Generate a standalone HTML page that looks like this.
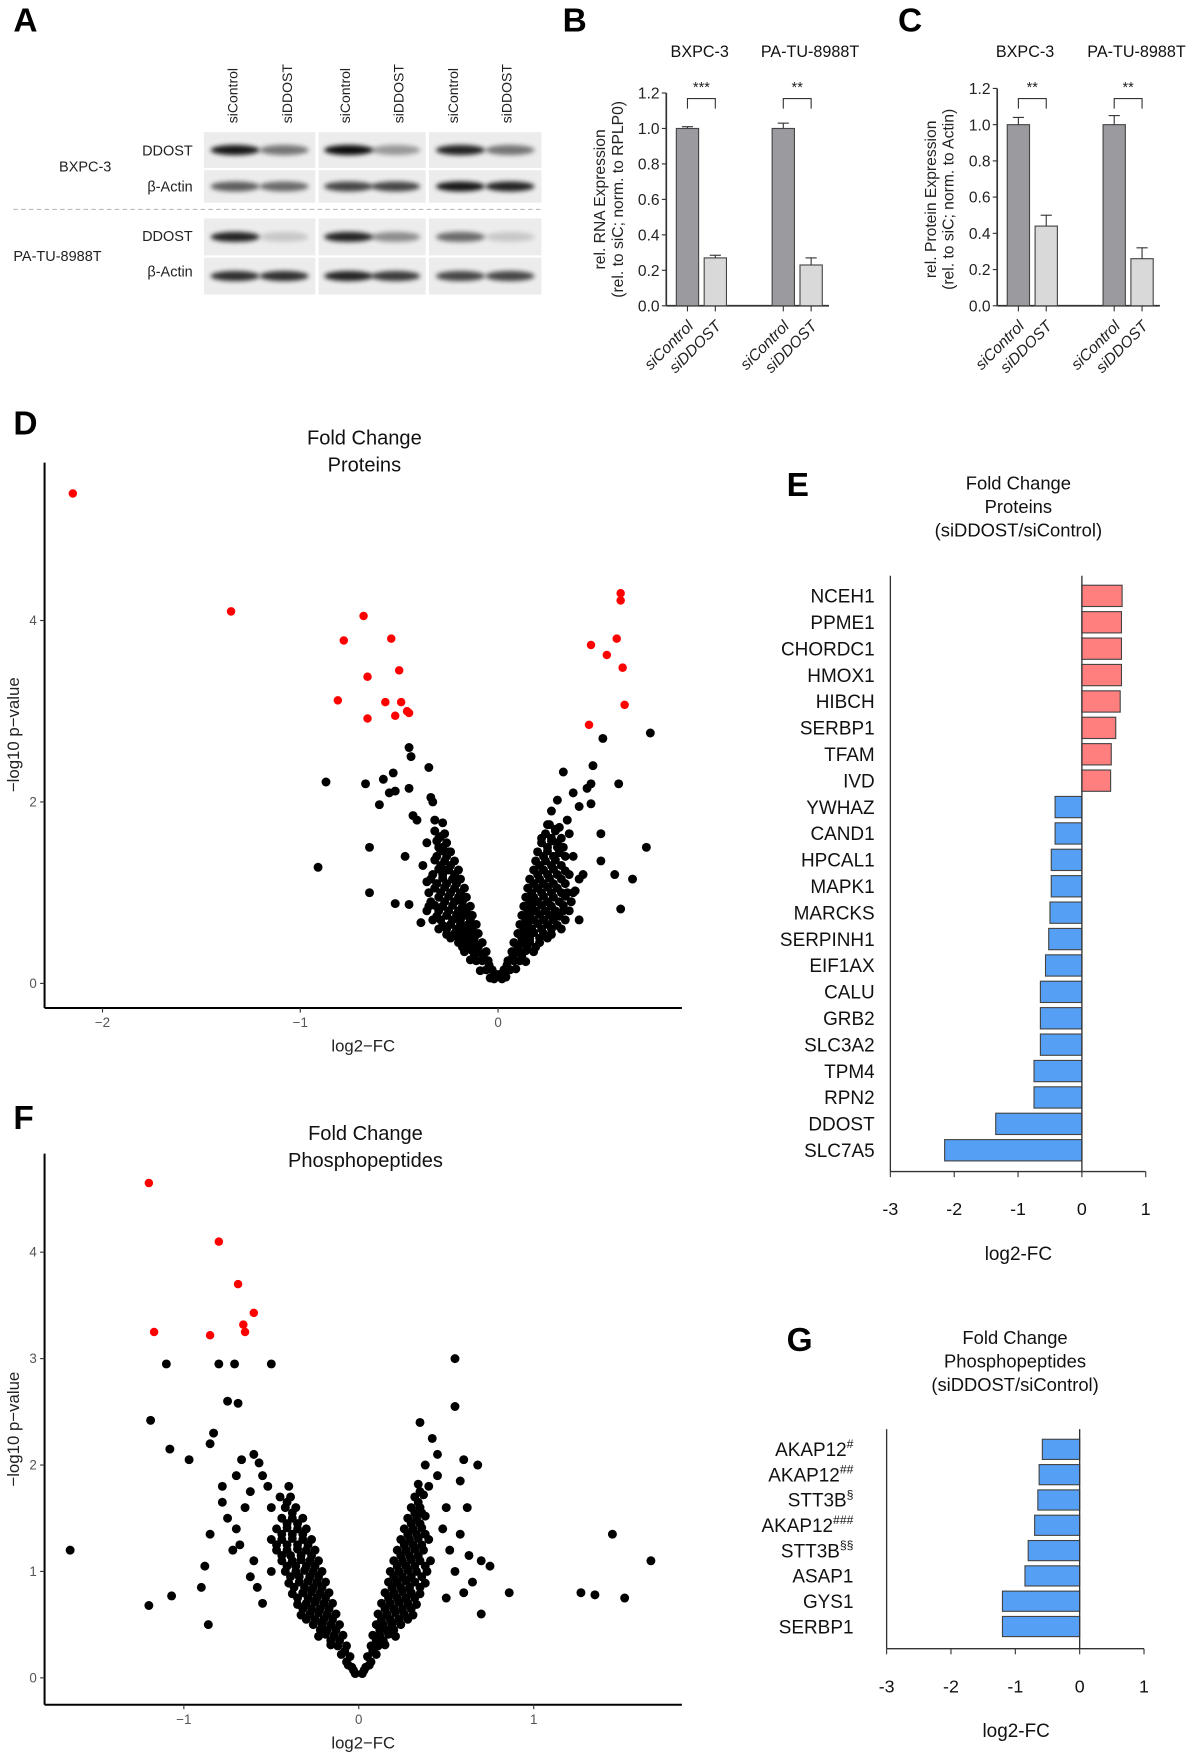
<!DOCTYPE html>
<html><head><meta charset="utf-8"><style>
html,body{margin:0;padding:0;background:#fff}
svg{display:block}
text{font-family:"Liberation Sans",sans-serif}
</style></head><body>
<svg id="fig" width="1200" height="1754" viewBox="0 0 1077 1566" preserveAspectRatio="none" xmlns="http://www.w3.org/2000/svg">
<defs><filter id="blur" x="-20%" y="-50%" width="140%" height="200%"><feGaussianBlur stdDeviation="2.2"/></filter></defs>
<g font-weight="bold" font-size="30" fill="#000">
<text x="12" y="28">A</text>
<text x="505" y="28">B</text>
<text x="806" y="28">C</text>
<text x="12" y="388">D</text>
<text x="706" y="443">E</text>
<text x="12" y="1008">F</text>
<text x="706" y="1206">G</text>
</g>
<g id="blot" font-size="13" fill="#222">
<g font-size="12.5">
<text transform="translate(213,110) rotate(-90)">siControl</text>
<text transform="translate(262,110) rotate(-90)">siDDOST</text>
<text transform="translate(314,110) rotate(-90)">siControl</text>
<text transform="translate(362,110) rotate(-90)">siDDOST</text>
<text transform="translate(411,110) rotate(-90)">siControl</text>
<text transform="translate(459,110) rotate(-90)">siDDOST</text>
</g>
<text x="173" y="139" text-anchor="end">DDOST</text>
<text x="173" y="171" text-anchor="end">β-Actin</text>
<text x="173" y="215" text-anchor="end">DDOST</text>
<text x="173" y="247" text-anchor="end">β-Actin</text>
<text x="53" y="153">BXPC-3</text>
<text x="12" y="233">PA-TU-8988T</text>
<line x1="12" y1="187" x2="486" y2="187" stroke="#bbb" stroke-dasharray="4,3"/>
</g>
<g id="bars-b"></g>
<g id="bars-c"></g>
<g id="volc-d"></g>
<g id="volc-f"></g>
<g id="bar-e"></g>
<g id="bar-g"></g>
</svg>
<script>
const barCats=["siControl","siDDOST","siControl","siDDOST"];
const bValues=[1.0,0.27,1.0,0.23];
const bErrors=[0.01,0.015,0.03,0.04];
const cValues=[1.0,0.44,1.0,0.26];
const cErrors=[0.04,0.06,0.05,0.06];
const bcTicks=[0,0.2,0.4,0.6,0.8,1.0,1.2];
const bStars=["***","**"];
const cStars=["**","**"];

const eGenes=["NCEH1","PPME1","CHORDC1","HMOX1","HIBCH","SERBP1","TFAM","IVD","YWHAZ","CAND1","HPCAL1","MAPK1","MARCKS","SERPINH1","EIF1AX","CALU","GRB2","SLC3A2","TPM4","RPN2","DDOST","SLC7A5"];
const eValues=[0.63,0.62,0.62,0.62,0.6,0.53,0.46,0.45,-0.42,-0.42,-0.48,-0.48,-0.5,-0.52,-0.57,-0.65,-0.65,-0.65,-0.75,-0.75,-1.35,-2.15];
const gGenes=["AKAP12","AKAP12","STT3B","AKAP12","STT3B","ASAP1","GYS1","SERBP1"];
const gSup=["#","##","§","###","§§","","",""];
const gValues=[-0.58,-0.63,-0.65,-0.7,-0.8,-0.85,-1.2,-1.2];
const fcTicks=[-3,-2,-1,0,1];

const dRed=[[-2.15,5.4],[-1.35,4.1],[-0.68,4.05],[-0.78,3.78],[-0.54,3.8],[-0.5,3.45],[-0.66,3.38],[-0.81,3.12],[-0.57,3.1],[-0.49,3.1],[-0.46,3.0],[-0.45,2.98],[-0.52,2.95],[-0.66,2.92],[0.62,4.3],[0.62,4.22],[0.47,3.73],[0.6,3.8],[0.55,3.62],[0.63,3.48],[0.64,3.07],[0.46,2.85]];
const dBlack=[[0.77,2.76],[0.53,2.7],[-0.45,2.6],[-0.44,2.5],[-0.87,2.22],[-0.67,2.2],[-0.58,2.25],[-0.53,2.32],[-0.52,2.12],[-0.55,2.1],[-0.45,2.15],[-0.6,1.97],[-0.35,2.38],[-0.34,2.05],[-0.33,2.0],[-0.43,1.85],[-0.41,1.8],[-0.32,1.8],[-0.28,1.77],[-0.91,1.28],[-0.65,1.5],[-0.47,1.4],[-0.65,1.0],[-0.52,0.88],[-0.45,0.87],[-0.39,0.67],[0.33,2.33],[0.48,2.4],[0.47,2.2],[0.45,2.15],[0.61,2.2],[0.47,1.98],[0.52,1.65],[0.75,1.5],[0.52,1.35],[0.59,1.2],[0.68,1.15],[0.62,0.82],[0.43,1.2],[0.41,1.15],[0.38,1.4],[0.3,1.55],[0.35,1.8],[0.27,1.9],[0.3,2.02],[0.41,0.7],[0.39,1.02],[0.38,2.1],[0.41,1.95],[0.36,1.65],[0.33,1.5],[-0.3,1.5],[-0.36,1.55],[-0.38,1.3],[-0.36,1.12],[-0.29,1.62],[-0.25,1.45],[-0.27,1.25],[-0.35,0.85],[0.25,1.75],[0.22,1.6],[0.35,1.0],[0.33,0.8],[0.37,0.9],[0.29,0.75]];
const dCore=[[-0.02,0.05],[-0.04,0.06],[-0.03,0.15],[-0.06,0.15],[-0.09,0.14],[-0.05,0.25],[-0.08,0.25],[-0.11,0.25],[-0.14,0.26],[-0.06,0.35],[-0.1,0.35],[-0.13,0.36],[-0.17,0.35],[-0.08,0.45],[-0.12,0.45],[-0.16,0.46],[-0.2,0.45],[-0.1,0.55],[-0.14,0.55],[-0.18,0.56],[-0.22,0.55],[-0.26,0.54],[-0.11,0.65],[-0.15,0.65],[-0.19,0.66],[-0.24,0.65],[-0.28,0.64],[-0.13,0.75],[-0.17,0.75],[-0.21,0.76],[-0.26,0.75],[-0.31,0.74],[-0.14,0.85],[-0.18,0.85],[-0.23,0.86],[-0.28,0.85],[-0.32,0.86],[-0.16,0.95],[-0.2,0.95],[-0.25,0.96],[-0.3,0.95],[-0.17,1.05],[-0.22,1.05],[-0.27,1.06],[-0.32,1.05],[-0.19,1.15],[-0.23,1.15],[-0.28,1.16],[-0.34,1.15],[-0.2,1.25],[-0.25,1.25],[-0.3,1.26],[-0.22,1.35],[-0.27,1.35],[-0.32,1.36],[-0.24,1.45],[-0.29,1.46],[-0.26,1.55],[-0.31,1.57],[-0.27,1.65],[-0.32,1.68],
[0.02,0.05],[0.04,0.07],[0.03,0.15],[0.06,0.15],[0.09,0.16],[0.05,0.25],[0.08,0.25],[0.11,0.25],[0.14,0.24],[0.07,0.35],[0.1,0.35],[0.14,0.36],[0.18,0.35],[0.08,0.45],[0.12,0.45],[0.16,0.46],[0.21,0.45],[0.1,0.55],[0.14,0.55],[0.18,0.56],[0.23,0.55],[0.27,0.54],[0.11,0.65],[0.15,0.65],[0.2,0.66],[0.25,0.65],[0.3,0.64],[0.12,0.75],[0.16,0.75],[0.21,0.76],[0.26,0.75],[0.31,0.74],[0.13,0.85],[0.17,0.85],[0.22,0.86],[0.27,0.85],[0.33,0.86],[0.14,0.95],[0.18,0.95],[0.23,0.96],[0.28,0.95],[0.34,0.96],[0.15,1.05],[0.2,1.05],[0.25,1.06],[0.3,1.05],[0.16,1.15],[0.21,1.15],[0.26,1.16],[0.32,1.15],[0.18,1.25],[0.23,1.25],[0.28,1.26],[0.34,1.24],[0.19,1.35],[0.24,1.35],[0.29,1.36],[0.2,1.45],[0.25,1.46],[0.31,1.44],[0.22,1.55],[0.27,1.57],[0.24,1.65],[0.29,1.68],[0.26,1.75],[0.31,1.72]];
const dFill=[[-0.01,0.1],[-0.045,0.2],[-0.075,0.3],[-0.12,0.3],[-0.1,0.4],[-0.145,0.4],[-0.18,0.4],[-0.12,0.5],[-0.16,0.5],[-0.2,0.5],[-0.24,0.5],[-0.13,0.6],[-0.17,0.6],[-0.21,0.6],[-0.26,0.6],[-0.3,0.6],[-0.14,0.7],[-0.19,0.7],[-0.23,0.7],[-0.29,0.7],[-0.33,0.7],[-0.16,0.8],[-0.2,0.8],[-0.25,0.8],[-0.3,0.8],[-0.36,0.8],[-0.18,0.9],[-0.22,0.9],[-0.27,0.9],[-0.34,0.9],[-0.19,1.0],[-0.24,1.0],[-0.29,1.0],[-0.35,1.0],[-0.21,1.1],[-0.26,1.1],[-0.31,1.1],[-0.22,1.2],[-0.28,1.2],[-0.33,1.2],[-0.24,1.3],[-0.29,1.3],[-0.26,1.4],[-0.31,1.4],[-0.28,1.5],[-0.3,1.6],
[0.01,0.1],[0.045,0.2],[0.075,0.3],[0.12,0.3],[0.1,0.4],[0.145,0.4],[0.19,0.4],[0.12,0.5],[0.16,0.5],[0.21,0.5],[0.25,0.5],[0.13,0.6],[0.17,0.6],[0.22,0.6],[0.27,0.6],[0.32,0.6],[0.14,0.7],[0.18,0.7],[0.23,0.7],[0.28,0.7],[0.34,0.7],[0.15,0.8],[0.19,0.8],[0.24,0.8],[0.29,0.8],[0.36,0.8],[0.16,0.9],[0.2,0.9],[0.25,0.9],[0.31,0.9],[0.37,0.9],[0.17,1.0],[0.22,1.0],[0.27,1.0],[0.32,1.0],[0.38,1.0],[0.18,1.1],[0.23,1.1],[0.28,1.1],[0.34,1.1],[0.2,1.2],[0.25,1.2],[0.3,1.2],[0.36,1.2],[0.21,1.3],[0.27,1.3],[0.32,1.3],[0.23,1.4],[0.28,1.4],[0.34,1.4],[0.25,1.5],[0.3,1.5],[0.27,1.6],[0.32,1.6],[0.29,1.7]];

const fRed=[[-1.2,4.65],[-0.8,4.1],[-0.69,3.7],[-0.6,3.43],[-0.66,3.32],[-0.65,3.25],[-1.17,3.25],[-0.85,3.22]];
const fBlack=[[-1.1,2.95],[-0.8,2.95],[-0.71,2.95],[-0.5,2.95],[-0.75,2.6],[-0.69,2.58],[-1.19,2.42],[-0.83,2.3],[-0.85,2.2],[-1.08,2.15],[-0.97,2.05],[-1.65,1.2],[-1.2,0.68],[-1.07,0.77],[-0.86,0.5],[-0.9,0.85],[-0.88,1.05],[0.55,3.0],[0.55,2.55],[0.35,2.4],[0.68,2.0],[0.6,2.05],[0.58,1.85],[0.62,1.6],[0.7,1.1],[0.75,1.05],[0.86,0.8],[1.27,0.8],[1.35,0.78],[1.45,1.35],[1.52,0.75],[1.67,1.1],[0.65,0.9],[0.7,0.6],[0.45,2.1],[0.4,1.8],[-0.6,2.1],[-0.55,1.9],[-0.7,1.9],[-0.78,1.8],[-0.45,1.7],[-0.5,1.6],[-0.65,1.6],[-0.75,1.5],[-0.85,1.35],[-0.68,1.25],[-0.6,1.1],[-0.5,1.0],[-0.55,0.7],[-0.7,1.4],[-0.62,1.75],[-0.57,2.02],[-0.52,1.8],[-0.67,2.05],[-0.78,1.65],[-0.72,1.2],[-0.62,0.95],[-0.58,0.85],[0.5,1.6],[0.48,1.4],[0.52,1.2],[0.55,1.0],[0.45,1.9],[0.58,1.35],[0.63,1.15],[0.6,0.8],[0.5,0.75],[0.42,2.25],[0.38,2.0]];
const fCore=[[-0.02,0.04],[-0.04,0.1],[-0.07,0.15],[-0.05,0.2],[-0.1,0.22],[-0.07,0.3],[-0.12,0.3],[-0.16,0.31],[-0.09,0.4],[-0.14,0.4],[-0.19,0.41],[-0.23,0.39],[-0.11,0.5],[-0.16,0.5],[-0.21,0.51],[-0.26,0.5],[-0.13,0.6],[-0.18,0.6],[-0.23,0.61],[-0.28,0.6],[-0.33,0.59],[-0.15,0.7],[-0.2,0.7],[-0.25,0.71],[-0.3,0.7],[-0.35,0.69],[-0.17,0.8],[-0.22,0.8],[-0.27,0.81],[-0.32,0.8],[-0.38,0.79],[-0.19,0.9],[-0.24,0.9],[-0.29,0.91],[-0.34,0.9],[-0.4,0.89],[-0.21,1.0],[-0.26,1.0],[-0.31,1.01],[-0.36,1.0],[-0.42,1.0],[-0.23,1.1],[-0.28,1.1],[-0.33,1.11],[-0.38,1.1],[-0.44,1.1],[-0.25,1.2],[-0.3,1.2],[-0.35,1.21],[-0.41,1.2],[-0.47,1.2],[-0.27,1.3],[-0.32,1.3],[-0.38,1.31],[-0.44,1.3],[-0.5,1.3],[-0.3,1.4],[-0.35,1.4],[-0.41,1.41],[-0.47,1.4],[-0.32,1.5],[-0.38,1.5],[-0.44,1.5],[-0.36,1.6],[-0.42,1.6],[-0.39,1.7],[-0.4,1.8],
[0.02,0.04],[0.04,0.1],[0.07,0.15],[0.05,0.2],[0.1,0.22],[0.07,0.3],[0.11,0.3],[0.15,0.31],[0.08,0.4],[0.12,0.4],[0.17,0.41],[0.21,0.39],[0.1,0.5],[0.14,0.5],[0.19,0.51],[0.24,0.5],[0.11,0.6],[0.16,0.6],[0.21,0.61],[0.26,0.6],[0.31,0.59],[0.13,0.7],[0.18,0.7],[0.23,0.71],[0.28,0.7],[0.33,0.69],[0.15,0.8],[0.2,0.8],[0.25,0.81],[0.3,0.8],[0.35,0.79],[0.17,0.9],[0.22,0.9],[0.27,0.91],[0.32,0.9],[0.38,0.89],[0.18,1.0],[0.23,1.0],[0.28,1.01],[0.33,1.0],[0.39,1.0],[0.2,1.1],[0.25,1.1],[0.3,1.11],[0.35,1.1],[0.41,1.1],[0.22,1.2],[0.27,1.2],[0.32,1.21],[0.37,1.2],[0.24,1.3],[0.29,1.3],[0.34,1.31],[0.4,1.3],[0.26,1.4],[0.31,1.4],[0.36,1.41],[0.28,1.5],[0.33,1.5],[0.38,1.52],[0.3,1.6],[0.35,1.6],[0.32,1.7],[0.37,1.72],[0.34,1.82]];
const fFill=[[-0.03,0.07],[-0.06,0.12],[-0.08,0.25],[-0.11,0.35],[-0.16,0.35],[-0.13,0.45],[-0.18,0.45],[-0.22,0.45],[-0.15,0.55],[-0.2,0.55],[-0.25,0.55],[-0.3,0.55],[-0.17,0.65],[-0.22,0.65],[-0.27,0.65],[-0.32,0.65],[-0.19,0.75],[-0.24,0.75],[-0.29,0.75],[-0.35,0.75],[-0.21,0.85],[-0.26,0.85],[-0.31,0.85],[-0.37,0.85],[-0.23,0.95],[-0.28,0.95],[-0.34,0.95],[-0.39,0.95],[-0.25,1.05],[-0.3,1.05],[-0.36,1.05],[-0.41,1.05],[-0.27,1.15],[-0.33,1.15],[-0.39,1.15],[-0.44,1.15],[-0.29,1.25],[-0.35,1.25],[-0.41,1.25],[-0.47,1.25],[-0.32,1.35],[-0.38,1.35],[-0.44,1.35],[-0.35,1.45],[-0.41,1.45],[-0.38,1.55],[-0.41,1.65],
[0.03,0.07],[0.06,0.12],[0.08,0.25],[0.1,0.35],[0.14,0.35],[0.12,0.45],[0.16,0.45],[0.2,0.45],[0.13,0.55],[0.18,0.55],[0.23,0.55],[0.28,0.55],[0.15,0.65],[0.2,0.65],[0.25,0.65],[0.3,0.65],[0.17,0.75],[0.22,0.75],[0.27,0.75],[0.32,0.75],[0.19,0.85],[0.24,0.85],[0.29,0.85],[0.35,0.85],[0.2,0.95],[0.25,0.95],[0.3,0.95],[0.36,0.95],[0.22,1.05],[0.27,1.05],[0.32,1.05],[0.38,1.05],[0.24,1.15],[0.29,1.15],[0.34,1.15],[0.26,1.25],[0.31,1.25],[0.36,1.25],[0.28,1.35],[0.33,1.35],[0.38,1.35],[0.3,1.45],[0.35,1.45],[0.32,1.55],[0.36,1.55],[0.34,1.65],[0.35,1.75]];
const dTicksX=[-2,-1,0];
const dTicksY=[0,2,4];
const fTicksX=[-1,0,1];
const fTicksY=[0,1,2,3,4];

const NS="http://www.w3.org/2000/svg";
function mk(parent,tag,attrs,txt){const e=document.createElementNS(NS,tag);for(const k in attrs)e.setAttribute(k,attrs[k]);if(txt!==undefined)e.textContent=txt;parent.appendChild(e);return e;}

(function(){
  const g=document.getElementById('blot');
  const boxes=[[183,283],[286,382],[385,486]];
  const rows=[[118,150],[152,181],[195,228],[230,263]];
  const intens=[[0.9,0.5,0.95,0.35,0.85,0.5],[0.6,0.55,0.7,0.7,0.9,0.85],[0.85,0.15,0.85,0.4,0.55,0.15],[0.8,0.8,0.85,0.75,0.7,0.7]];
  rows.forEach((r,ri)=>{boxes.forEach((b,bi)=>{
    const rc=mk(g,'rect',{x:b[0],y:r[0],width:b[1]-b[0],height:r[1]-r[0],fill:'#ececec'});
    
    
    for(let l=0;l<2;l++){const v=intens[ri][bi*2+l];const cx=b[0]+(b[1]-b[0])*(l?0.72:0.28);
      const el=mk(g,'ellipse',{cx:cx,cy:(r[0]+r[1])/2,rx:22,ry:4.5,fill:'#000',opacity:v,filter:'url(#blur)'});
      
      }
  });});
})();

function barChart(id,x0,top0,unit,vals,errs,stars,lbl1,lbl2,hx){
  const g=document.getElementById(id);
  const y=v=>273-v*unit;
  const xs=[x0+9,x0+34,x0+95,x0+120];
  bcTicks.forEach(t=>{mk(g,'line',{x1:x0-4,y1:y(t),x2:x0,y2:y(t),stroke:'#333'});
    const tx=mk(g,'text',{x:x0-6,y:y(t)+5,'text-anchor':'end','font-size':14,fill:'#222'},t.toFixed(1));
    
    });
  mk(g,'line',{x1:x0,y1:y(1.2),x2:x0,y2:273,stroke:'#333','stroke-width':1.5});
  mk(g,'line',{x1:x0,y1:273,x2:x0+146,y2:273,stroke:'#333','stroke-width':1.5});
  vals.forEach((v,i)=>{
    const r=mk(g,'rect',{x:xs[i],y:y(v),width:20,height:273-y(v),fill:i%2?'#d9d9d9':'#9b9b9f',stroke:'#444','stroke-width':1});
    
    
    mk(g,'line',{x1:xs[i]+10,y1:y(v),x2:xs[i]+10,y2:y(v+errs[i]),stroke:'#333'});
    mk(g,'line',{x1:xs[i]+5,y1:y(v+errs[i]),x2:xs[i]+15,y2:y(v+errs[i]),stroke:'#333'});
    mk(g,'line',{x1:xs[i]+10,y1:273,x2:xs[i]+10,y2:278,stroke:'#333'});
    const t=mk(g,'text',{transform:`translate(${xs[i]+16},${292}) rotate(-45)`,'text-anchor':'end','font-size':14,'font-style':'italic',fill:'#222'},barCats[i]);
    
    
  });
  [0,1].forEach(k=>{const a=xs[k*2]+10,b=xs[k*2+1]+10;
    mk(g,'path',{d:`M${a},${97}V${88}H${b}V${97}`,fill:'none',stroke:'#333'});
    const s=mk(g,'text',{x:(a+b)/2,y:82,'text-anchor':'middle','font-size':13,fill:'#222'},stars[k]);
    
    });
  const h1=mk(g,'text',{x:hx[0],y:51,'text-anchor':'middle','font-size':14.5,fill:'#111'},'BXPC-3');
  
  
  const h2=mk(g,'text',{x:hx[1],y:51,'text-anchor':'middle','font-size':14.5,fill:'#111'},'PA-TU-8988T');
  
  
  const yl=mk(g,'text',{transform:`translate(${x0-55},${178}) rotate(-90)`,'text-anchor':'middle','font-size':14,fill:'#222'});
  
  
  mk(yl,'tspan',{x:0,dy:0},lbl1);mk(yl,'tspan',{x:0,dy:16},lbl2);
}
barChart('bars-b',598,83,158.3,bValues,bErrors,bStars,'rel. RNA Expression','(rel. to siC; norm. to RPLP0)',[628,727]);
barChart('bars-c',895,79,161.7,cValues,cErrors,cStars,'rel. Protein Expression','(rel. to siC; norm. to Actin)',[920,1020]);

function volcano(id,o){
  const g=document.getElementById(id);
  const x=v=>o.x0+v*o.ux, y=v=>o.y0-v*o.uy;
  const tl=mk(g,'text',{x:o.tx,y:o.ty,'text-anchor':'middle','font-size':18,fill:'#111'});
  
  
  mk(tl,'tspan',{x:o.tx,dy:0},'Fold Change');mk(tl,'tspan',{x:o.tx,dy:24},o.sub);
  o.core.concat(o.fill,o.black).forEach(p=>{const c=mk(g,'circle',{cx:x(p[0]),cy:y(p[1]),r:4.0,fill:'#000'});
    
    });
  o.red.forEach(p=>{const c=mk(g,'circle',{cx:x(p[0]),cy:y(p[1]),r:3.8,fill:'#f00'});
    
    });
  mk(g,'line',{x1:40,y1:o.top,x2:40,y2:o.bot,stroke:'#000','stroke-width':1.8});
  mk(g,'line',{x1:40,y1:o.bot,x2:612,y2:o.bot,stroke:'#000','stroke-width':1.8});
  o.tx_.forEach(t=>{mk(g,'line',{x1:x(t),y1:o.bot,x2:x(t),y2:o.bot+4,stroke:'#333'});
    const tt=mk(g,'text',{x:x(t),y:o.bot+17,'text-anchor':'middle','font-size':12,fill:'#555'},t<0?'\u2212'+(-t):t);
    
    });
  o.ty_.forEach(t=>{mk(g,'line',{x1:36,y1:y(t),x2:40,y2:y(t),stroke:'#333'});
    const tt=mk(g,'text',{x:33,y:y(t)+4,'text-anchor':'end','font-size':12,fill:'#555'},t);
    
    });
  const xl=mk(g,'text',{x:326,y:o.bot+39,'text-anchor':'middle','font-size':15,fill:'#222'},'log2\u2212FC');
  
  
  const yl=mk(g,'text',{transform:`translate(17,${o.ylc}) rotate(-90)`,'text-anchor':'middle','font-size':15,fill:'#222'},'\u2212log10 p\u2212value');
  
  
}
volcano('volc-d',{x0:447,ux:177.5,y0:878,uy:81,top:413,bot:900,tx:327,ty:397,sub:'Proteins',red:dRed,black:dBlack,core:dCore,fill:dFill,tx_:dTicksX,ty_:dTicksY,ylc:656});
volcano('volc-f',{x0:322,ux:157,y0:1498,uy:95,top:1030,bot:1522,tx:328,ty:1018,sub:'Phosphopeptides',red:fRed,black:fBlack,core:fCore,fill:fFill,tx_:fTicksX,ty_:fTicksY,ylc:1276});

function hbars(id,o){
  const g=document.getElementById(id);
  const x=v=>o.z+v*o.u;
  const tl=mk(g,'text',{x:o.tx,y:o.ty,'text-anchor':'middle','font-size':16.5,fill:'#111'});
  
  
  mk(tl,'tspan',{x:o.tx,dy:0},'Fold Change');mk(tl,'tspan',{x:o.tx,dy:21},o.sub);mk(tl,'tspan',{x:o.tx,dy:21},'(siDDOST/siControl)');
  o.vals.forEach((v,i)=>{const cy=o.r0+i*o.step;
    const r=mk(g,'rect',{x:Math.min(x(0),x(v)),y:cy-o.h/2,width:Math.abs(x(v)-x(0)),height:o.h,fill:v>0?'#ff7f7f':'#55a0f5',stroke:'#444','stroke-width':1});
    
    
    const t=mk(g,'text',{x:o.lx,y:cy+6,'text-anchor':'end','font-size':17,fill:'#111'},o.genes[i]);
    
    
    if(o.sup&&o.sup[i]){mk(t,'tspan',{'font-size':11,dy:-7},o.sup[i]);}
  });
  mk(g,'line',{x1:x(-3),y1:o.top,x2:x(-3),y2:o.bot,stroke:'#333','stroke-width':1.2});
  mk(g,'line',{x1:x(0),y1:o.top,x2:x(0),y2:o.bot,stroke:'#333','stroke-width':1.2});
  mk(g,'line',{x1:x(-3),y1:o.bot,x2:x(1),y2:o.bot,stroke:'#333','stroke-width':1.2});
  fcTicks.forEach(t=>{mk(g,'line',{x1:x(t),y1:o.bot,x2:x(t),y2:o.bot+5,stroke:'#333'});
    const tt=mk(g,'text',{x:x(t),y:o.bot+39,'text-anchor':'middle','font-size':16,fill:'#111'},t);
    
    });
  const xl=mk(g,'text',{x:o.z-57,y:o.bot+79,'text-anchor':'middle','font-size':17,fill:'#111'},'log2-FC');
  
  
}
hbars('bar-e',{z:971,u:57.3,r0:532,step:23.57,h:19,genes:eGenes,vals:eValues,lx:785,top:514,bot:1046,tx:914,ty:437,sub:'Proteins'});
hbars('bar-g',{z:969,u:57.75,r0:1294,step:22.6,h:18,genes:gGenes,sup:gSup,vals:gValues,lx:766,top:1276,bot:1472,tx:911,ty:1200,sub:'Phosphopeptides'});
</script>
</body></html>
